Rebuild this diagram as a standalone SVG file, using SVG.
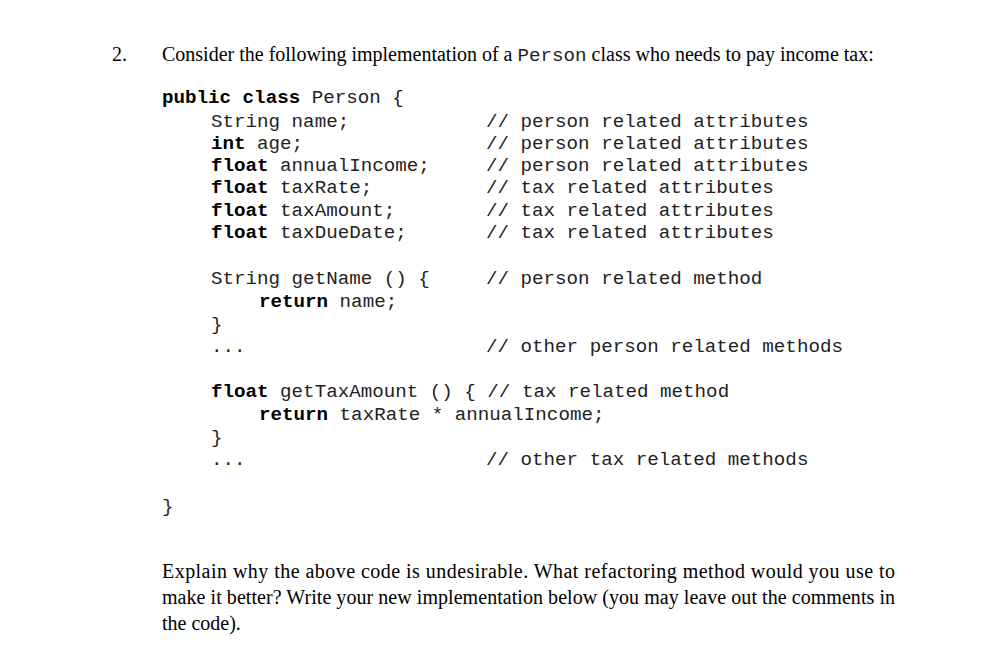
<svg xmlns="http://www.w3.org/2000/svg" width="1006" height="666" viewBox="0 0 1006 666">
<style>
.s{font-family:"Liberation Serif",serif;font-size:20px;fill:#000}
.m{font-family:"Liberation Mono",monospace;font-size:19.2px;fill:#222}
.b{font-weight:bold;fill:#000}
</style>
<rect width="1006" height="666" fill="#fff"/>
<text class="s" x="112" y="61">2.</text>
<text class="s" x="162" y="61">Consider the following implementation of a <tspan class="m" style="font-size:19.2px">Person</tspan> class who needs to pay income tax:</text>
<g class="m">
<text x="162" y="103"><tspan class="b">public class</tspan> Person {</text>
<text x="211" y="127">String name;</text>
<text x="211" y="149"><tspan class="b">int</tspan> age;</text>
<text x="211" y="171"><tspan class="b">float</tspan> annualIncome;</text>
<text x="211" y="193"><tspan class="b">float</tspan> taxRate;</text>
<text x="211" y="216"><tspan class="b">float</tspan> taxAmount;</text>
<text x="211" y="238"><tspan class="b">float</tspan> taxDueDate;</text>
<text x="486" y="127">// person related attributes</text>
<text x="486" y="149">// person related attributes</text>
<text x="486" y="171">// person related attributes</text>
<text x="486" y="193">// tax related attributes</text>
<text x="486" y="216">// tax related attributes</text>
<text x="486" y="238">// tax related attributes</text>
<text x="211" y="284">String getName () {</text>
<text x="486" y="284">// person related method</text>
<text x="259" y="307"><tspan class="b">return</tspan> name;</text>
<text x="211" y="330">}</text>
<text x="211" y="352">...</text>
<text x="486" y="352">// other person related methods</text>
<text x="211" y="397"><tspan class="b">float</tspan> getTaxAmount () { // tax related method</text>
<text x="259" y="420"><tspan class="b">return</tspan> taxRate * annualIncome;</text>
<text x="211" y="443">}</text>
<text x="211" y="465">...</text>
<text x="486" y="465">// other tax related methods</text>
<text x="162" y="512">}</text>
</g>
<text class="s" x="162" y="578" textLength="733" lengthAdjust="spacing">Explain why the above code is undesirable. What refactoring method would you use to</text>
<text class="s" x="162" y="604" textLength="733" lengthAdjust="spacing">make it better? Write your new implementation below (you may leave out the comments in</text>
<text class="s" x="162" y="630">the code).</text>
</svg>
